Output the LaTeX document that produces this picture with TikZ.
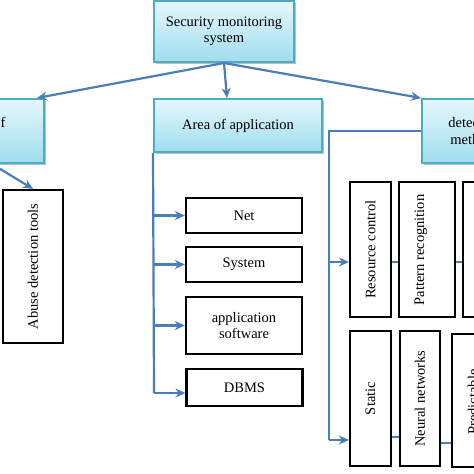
\documentclass[tikz,border=0pt]{standalone}
\usepackage{fontspec}
\setmainfont{Liberation Serif}
\usetikzlibrary{arrows.meta,shadows}
\definecolor{connc}{HTML}{4A7EBB}
\definecolor{bbord}{HTML}{4BACC6}
\definecolor{btop}{HTML}{E6F7FC}
\definecolor{bbot}{HTML}{9FDDEE}
\begin{document}
\begin{tikzpicture}[x=1pt,y=-1pt,
  txt/.style={font=\fontsize{14.5}{16.5}\selectfont, align=center},
  bluebox/.style={txt, draw=bbord, line width=2pt, top color=btop, bottom color=bbot,
    drop shadow={shadow xshift=2pt, shadow yshift=-2pt, fill=black, opacity=0.25},
    inner sep=0pt},
  whitebox/.style={txt, draw=black, line width=2.2pt, fill=white, inner sep=0pt},
  conn/.style={draw=connc, line width=2.2pt},
  arr/.style={conn, -{Stealth[length=10pt,width=9pt]}}]
\useasboundingbox (0,0) rectangle (474,474);
\clip (0,0) rectangle (474,474);
% blue boxes
\node[bluebox, minimum width=140pt, minimum height=61pt] (top) at (224,31.5) {Security monitoring\\system};
\node[bluebox, minimum width=104pt, minimum height=64pt] (left) at (-8,131) {};
\node[txt, anchor=base west, inner sep=0pt] (leftt) at (0.5,127) {f};
\node[bluebox, minimum width=168pt, minimum height=53pt] (area) at (238,125.5) {Area of application};
\node[bluebox, minimum width=106pt, minimum height=64pt] (right) at (475,131) {detection\\methods};
% white boxes
\node[whitebox, minimum width=60pt, minimum height=153pt] (abuse) at (33,266.5) {\rotatebox{90}{Abuse detection tools}};
\node[whitebox, minimum width=116pt, minimum height=35pt] (net) at (244,215.5) {Net};
\node[whitebox, minimum width=116pt, minimum height=35pt] (system) at (244,264.5) {System};
\node[whitebox, minimum width=116pt, minimum height=57pt] (app) at (244,325.5) {application\\software};
\node[whitebox, minimum width=116pt, minimum height=37pt] (dbms) at (244.5,387.5) {DBMS};
\node[whitebox, minimum width=41pt, minimum height=135pt] (resource) at (370.5,249.5) {\rotatebox{90}{Resource control}};
\node[whitebox, minimum width=56pt, minimum height=135pt] (pattern) at (427,249.5) {};
\node[txt, inner sep=0pt] (patternt) at (421,250) {\rotatebox{90}{Pattern recognition}};
\node[whitebox, minimum width=57pt, minimum height=135pt] (third) at (491.5,249.5) {};
\node[whitebox, minimum width=41pt, minimum height=135pt] (static) at (370.5,398.5) {\rotatebox{90}{Static}};
\node[whitebox, minimum width=40pt, minimum height=135pt] (neural) at (420,398.5) {\rotatebox{90}{Neural networks}};
\node[whitebox, minimum width=68pt, minimum height=133pt] (pred) at (486,400.5) {};
\node[txt, inner sep=0pt] (predt) at (473,402) {\rotatebox{90}{Predictable}};
% coordinates
\coordinate (topS) at (224,63);
\coordinate (abot) at (154,393);
\coordinate (rcorner) at (329,131);
\coordinate (r1) at (329,262);
\coordinate (rbot) at (329,440);
% top connectors
\draw[arr] (topS) -- ([xshift=-8pt]left.north east);
\draw[arr] (topS) -- ([xshift=-11pt]area.north);
\draw[arr] (topS) -- (right.north west);
\draw[arr] (left.south) -- (abuse.north);
% area connectors
\draw[conn] (area.south west) -- (abot);
\draw[arr] (area.south west |- net.west) -- (net.west);
\draw[arr] (area.south west |- system.west) -- (system.west);
\draw[arr] (area.south west |- app.west) -- (app.west);
\draw[arr] (abot) -- (abot -| dbms.west);
% right connectors
\draw[conn] (right.west |- rcorner) -- (rcorner) -- (rbot);
\draw[arr] (r1) -- (r1 -| resource.west);
\draw[arr] (rbot) -- (rbot -| static.west);
\draw[conn] (resource.east |- r1) -- (pattern.west |- r1);
\draw[conn] (pattern.east |- r1) -- (third.west |- r1);
\draw[conn] (static.east |- 0,437) -- (neural.west |- 0,437);
\draw[conn] (neural.east |- 0,443) -- (pred.west |- 0,443);
\end{tikzpicture}
\end{document}
